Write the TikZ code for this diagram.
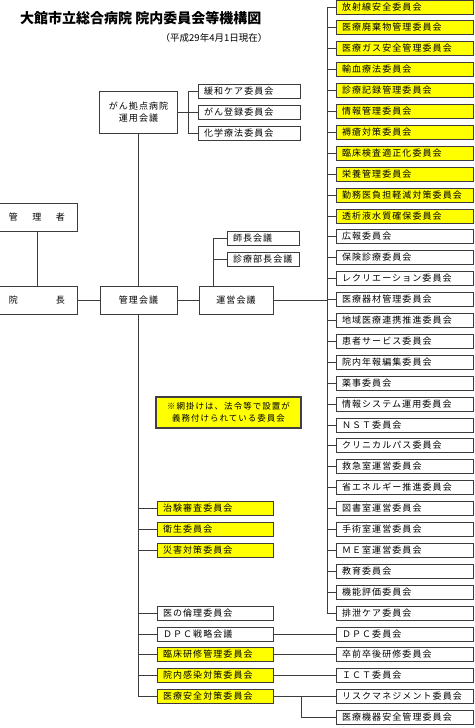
\documentclass[tikz,border=0pt]{standalone}
\usepackage{fontspec}
\usepackage{tikz}
\usetikzlibrary{positioning}
\newfontfamily\jp[LetterSpace=12]{Noto Sans CJK JP}
\newfontfamily\jptitle{Noto Sans CJK JP}
\definecolor{linegray}{RGB}{60,60,60}
\definecolor{reqyellow}{RGB}{255,255,0}
\tikzset{
  box/.style={draw=linegray, line width=1pt, fill=white, inner sep=0pt, outer sep=0pt, minimum height=14pt, font=\jp\fontsize{9}{12}\selectfont},
  rowbox/.style={box, text height=7.5pt, text depth=1.5pt, inner xsep=6pt, align=left, anchor=west},
  rbox/.style={rowbox, text width=125pt},
  lbox/.style={rowbox, text width=104pt},
  gbox/.style={rowbox, text width=90pt},
  sbox/.style={rowbox, text width=60pt},
  mainbox/.style={box, minimum height=28pt, align=center},
  req/.style={fill=reqyellow},
  conn/.style={draw=linegray, line width=1pt, line cap=rect},
}

\begin{document}
\begin{tikzpicture}[x=1pt, y=-1pt]
  \useasboundingbox (0,0) rectangle (474,728);
  % title
  \node[font=\jptitle\bfseries\fontsize{14}{16}\selectfont, anchor=west, inner sep=0pt] (title) at (20,18) {大館市立総合病院 院内委員会等機構図};
  \node[font=\jptitle\fontsize{9.5}{11}\selectfont, inner sep=0pt] (date) at (214,38) {（平成29年4月1日現在）};

  % main line
  \node[mainbox, minimum width=80pt, text width=56pt] (kanrisha) at (37,217) {管\hfill 理\hfill 者};
  \node[mainbox, minimum width=80pt, text width=56pt] (incho) at (37,300) {院\hfill 長};
  \node[mainbox, minimum width=77pt] (kanri) at (138.5,300) {管理会議};
  \node[mainbox, minimum width=74pt] (unei) at (236,300) {運営会議};
  \node[mainbox, minimum width=78pt, minimum height=42pt] (gan) at (138.5,112) {がん拠点病院\\運用会議};

  \node[gbox] (toroku) at (198,112) {がん登録委員会};
  \node[gbox, above=7pt of toroku] (kanwa) {緩和ケア委員会};
  \node[gbox, below=7pt of toroku] (kagaku) {化学療法委員会};

  \node[sbox] (shicho) at (227,238) {師長会議};
  \node[sbox, below=7pt of shicho] (buchou) {診療部長会議};

  \node[box, req, draw=black!75, line width=1.6pt, minimum width=145pt, minimum height=31pt, align=center, font=\jp\fontsize{8.5}{12}\selectfont] (note) at (228.5,412.5) {※網掛けは、法令等で設置が\\義務付けられている委員会};

  % right column
  \node[rbox, req] (hoshasen) at (336,7) {放射線安全委員会};
  \node[rbox, req, below=6.9pt of hoshasen] (haiki) {医療廃棄物管理委員会};
  \node[rbox, req, below=6.9pt of haiki] (gas) {医療ガス安全管理委員会};
  \node[rbox, req, below=6.9pt of gas] (yuketsu) {輸血療法委員会};
  \node[rbox, req, below=6.9pt of yuketsu] (kiroku) {診療記録管理委員会};
  \node[rbox, req, below=6.9pt of kiroku] (joho) {情報管理委員会};
  \node[rbox, req, below=6.9pt of joho] (jokuso) {褥瘡対策委員会};
  \node[rbox, req, below=6.9pt of jokuso] (kensa) {臨床検査適正化委員会};
  \node[rbox, req, below=6.9pt of kensa] (eiyo) {栄養管理委員会};
  \node[rbox, req, below=6.9pt of eiyo] (futan) {勤務医負担軽減対策委員会};
  \node[rbox, req, below=6.9pt of futan] (toseki) {透析液水質確保委員会};
  \node[rbox, below=6.9pt of toseki] (koho) {広報委員会};
  \node[rbox, below=6.9pt of koho] (hoken) {保険診療委員会};
  \node[rbox, below=6.9pt of hoken] (recre) {レクリエーション委員会};
  \node[rbox, below=6.9pt of recre] (kizai) {医療器材管理委員会};
  \node[rbox, below=6.9pt of kizai] (chiiki) {地域医療連携推進委員会};
  \node[rbox, below=6.9pt of chiiki] (kanja) {患者サービス委員会};
  \node[rbox, below=6.9pt of kanja] (nenpo) {院内年報編集委員会};
  \node[rbox, below=6.9pt of nenpo] (yakuji) {薬事委員会};
  \node[rbox, below=6.9pt of yakuji] (system) {情報システム運用委員会};
  \node[rbox, below=6.9pt of system] (nst) {ＮＳＴ委員会};
  \node[rbox, below=6.9pt of nst] (path) {クリニカルパス委員会};
  \node[rbox, below=6.9pt of path] (kyukyu) {救急室運営委員会};
  \node[rbox, below=6.9pt of kyukyu] (shoene) {省エネルギー推進委員会};
  \node[rbox, below=6.9pt of shoene] (tosho) {図書室運営委員会};
  \node[rbox, below=6.9pt of tosho] (shujutsu) {手術室運営委員会};
  \node[rbox, below=6.9pt of shujutsu] (me) {ＭＥ室運営委員会};
  \node[rbox, below=6.9pt of me] (kyoiku) {教育委員会};
  \node[rbox, below=6.9pt of kyoiku] (kino) {機能評価委員会};
  \node[rbox, below=6.9pt of kino] (haisetsu) {排泄ケア委員会};
  \node[rbox, below=6.9pt of haisetsu] (dpc) {ＤＰＣ委員会};
  \node[rbox, below=6.9pt of dpc] (kenshu) {卒前卒後研修委員会};
  \node[rbox, below=6.9pt of kenshu] (ict) {ＩＣＴ委員会};
  \node[rbox, below=6.9pt of ict] (risk) {リスクマネジメント委員会};
  \node[rbox, below=6.9pt of risk] (kiki) {医療機器安全管理委員会};

  % left column under kanri
  \coordinate (lx) at (157,0);
  \node[lbox, req] (chiken) at (lx |- tosho) {治験審査委員会};
  \node[lbox, req] (eisei) at (lx |- shujutsu) {衛生委員会};
  \node[lbox, req] (saigai) at (lx |- me) {災害対策委員会};
  \node[lbox] (rinri) at (lx |- haisetsu) {医の倫理委員会};
  \node[lbox] (dpcsen) at (lx |- dpc) {ＤＰＣ戦略会議};
  \node[lbox, req] (rinsho) at (lx |- kenshu) {臨床研修管理委員会};
  \node[lbox, req] (kansen) at (lx |- ict) {院内感染対策委員会};
  \node[lbox, req] (anzen) at (lx |- risk) {医療安全対策委員会};

  % connectors
  \coordinate (gbus) at (188,0);
  \coordinate (sbus) at (213,0);
  \coordinate (rbus) at (327,0);
  \coordinate (rsplit) at (301,0);
  \draw[conn] (kanrisha) -- (incho);
  \draw[conn] (incho) -- (kanri);
  \draw[conn] (kanri) -- (unei);
  \draw[conn] (gan) -- (kanri);
  \draw[conn] (kanri.south) |- (anzen.west);
  \foreach \n in {chiken,eisei,saigai,rinri,dpcsen,rinsho,kansen}
    \draw[conn] (kanri.south |- \n.west) -- (\n.west);

  \draw[conn] (gan.east) -- (gan.east -| gbus);
  \draw[conn] (kanwa.west -| gbus) -- (kagaku.west -| gbus);
  \foreach \n in {kanwa,toroku,kagaku}
    \draw[conn] (\n.west -| gbus) -- (\n.west);

  \draw[conn] (shicho.west -| sbus) -- (sbus |- unei.north);
  \foreach \n in {shicho,buchou}
    \draw[conn] (\n.west -| sbus) -- (\n.west);

  \draw[conn] (unei.east) -- (unei.east -| rbus);
  \draw[conn] (hoshasen.west -| rbus) -- (haisetsu.west -| rbus);
  \foreach \n in {hoshasen,haiki,gas,yuketsu,kiroku,joho,jokuso,kensa,eiyo,futan,toseki,koho,hoken,recre,kizai,chiiki,kanja,nenpo,yakuji,system,nst,path,kyukyu,shoene,tosho,shujutsu,me,kyoiku,kino,haisetsu}
    \draw[conn] (\n.west -| rbus) -- (\n.west);

  \draw[conn] (dpcsen.east) -- (dpc.west);
  \draw[conn] (rinsho.east) -- (kenshu.west);
  \draw[conn] (kansen.east) -- (ict.west);
  \draw[conn] (anzen.east) -- (risk.west);
  \draw[conn] (anzen.east -| rsplit) |- (kiki.west);
\end{tikzpicture}
\end{document}
